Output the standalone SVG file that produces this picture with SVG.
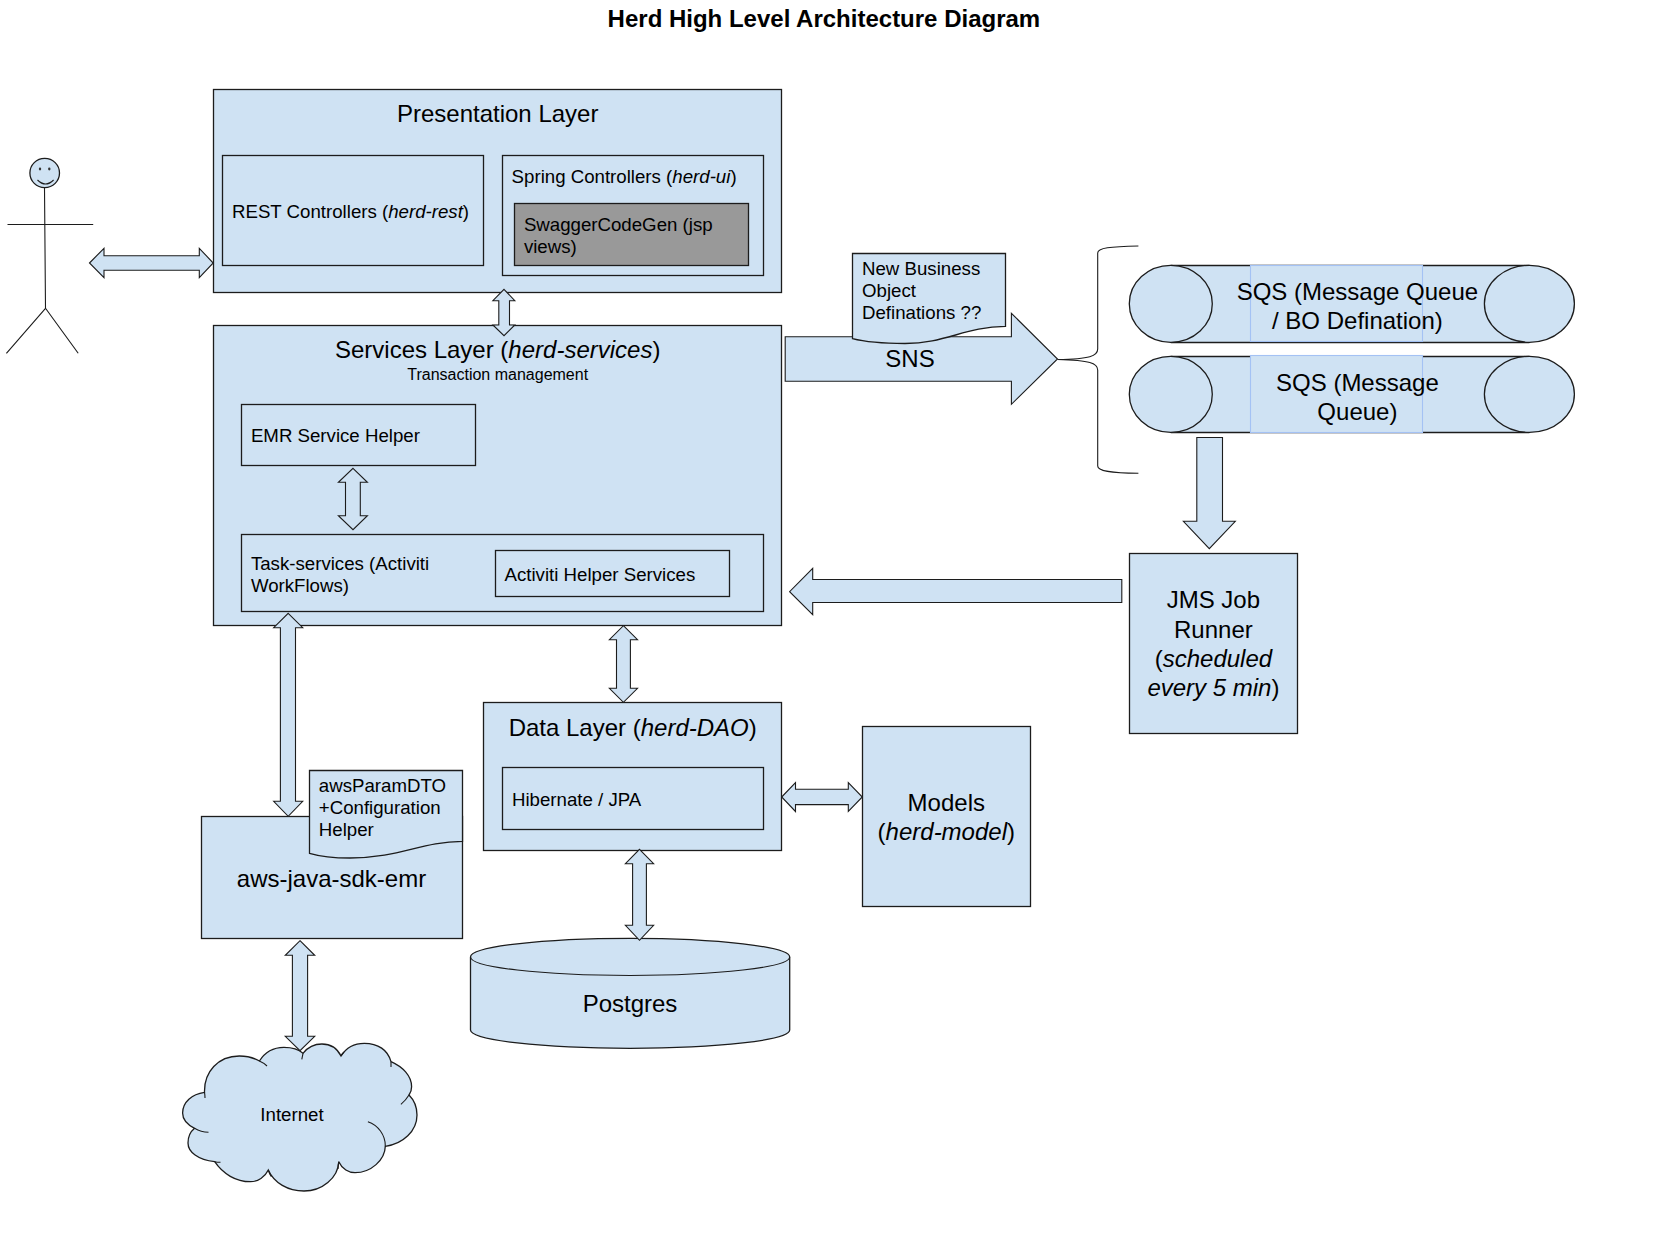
<svg xmlns="http://www.w3.org/2000/svg" width="1679" height="1244" viewBox="0 0 1679 1244">
<style>
text{font-family:"Liberation Sans",Arial,sans-serif;fill:#000;font-size:18.67px}
.l{font-size:24px}
.c{text-anchor:middle}
.t{font-weight:bold;font-size:24px}
.s{font-size:16px}
.i{font-style:italic}
.b{fill:#cfe2f3;stroke:#1c1c1c;stroke-width:1.3}
.a{fill:#cfe2f3;stroke:#1c1c1c;stroke-width:1.1;stroke-linejoin:miter}
.n{fill:none;stroke:#1c1c1c;stroke-width:1.1}
.q{fill:#cfe2f3;stroke:#a4c2f4;stroke-width:1.1}
</style>
<rect width="1679" height="1244" fill="#fff"/>
<text id="title" class="t c" x="823.9" y="26.6">Herd High Level Architecture Diagram</text>

<g id="user">
<ellipse class="b" cx="44.7" cy="173" rx="14.8" ry="14.7"/>
<ellipse cx="40" cy="169" rx="1.2" ry="1.4" fill="#333"/>
<ellipse cx="49.3" cy="169" rx="1.2" ry="1.4" fill="#333"/>
<path class="n" d="M37.5,180 Q45.5,188 53.6,180"/>
<path class="n" d="M44.5,187.7 L45.5,308.3 M7.5,224.5 H93.2 M45.5,308.3 L6.4,353.3 M45.5,308.3 L78.2,353.3"/>
</g>

<g id="presentation-layer">
<rect class="b" x="213.5" y="89.5" width="568" height="203"/>
<text class="l c" x="497.7" y="122">Presentation Layer</text>
</g>
<g id="rest-controllers">
<rect class="b" x="222.5" y="155.5" width="261" height="110"/>
<text x="232" y="217.8">REST Controllers (<tspan class="i">herd-rest</tspan>)</text>
</g>
<g id="spring-controllers">
<rect class="b" x="502.5" y="155.5" width="261" height="120"/>
<text x="511.6" y="182.8">Spring Controllers (<tspan class="i">herd-ui</tspan>)</text>
</g>
<g id="swagger-codegen">
<rect x="514.5" y="203.5" width="234" height="62" fill="#999" stroke="#1c1c1c" stroke-width="1.3"/>
<text x="523.9" y="231">SwaggerCodeGen (jsp</text>
<text x="523.9" y="252.7">views)</text>
</g>

<g id="services-layer">
<rect class="b" x="213.5" y="325.5" width="568" height="300"/>
<text class="l c" x="497.7" y="358">Services Layer (<tspan class="i">herd-services</tspan>)</text>
<text class="s c" x="497.7" y="379.6">Transaction management</text>
</g>
<g id="emr-service-helper">
<rect class="b" x="241.5" y="404.5" width="234" height="61"/>
<text x="250.9" y="442.2">EMR Service Helper</text>
</g>
<g id="task-services">
<rect class="b" x="241.5" y="534.5" width="522" height="77"/>
<text x="250.9" y="570">Task-services (Activiti</text>
<text x="250.9" y="592">WorkFlows)</text>
</g>
<g id="activiti-helper-services">
<rect class="b" x="495.5" y="550.5" width="234" height="46"/>
<text x="504.5" y="581.2">Activiti Helper Services</text>
</g>

<g id="data-layer">
<rect class="b" x="483.5" y="702.5" width="298" height="148"/>
<text class="l c" x="632.7" y="735.7">Data Layer (<tspan class="i">herd-DAO</tspan>)</text>
</g>
<g id="hibernate-jpa">
<rect class="b" x="502.5" y="767.5" width="261" height="62"/>
<text x="512" y="805.7">Hibernate / JPA</text>
</g>
<g id="models">
<rect class="b" x="862.5" y="726.5" width="168" height="180"/>
<text class="l c" x="946.3" y="810.8">Models</text>
<text class="l c" x="946.3" y="840">(<tspan class="i">herd-model</tspan>)</text>
</g>
<g id="aws-java-sdk-emr">
<rect class="b" x="201.5" y="816.5" width="261" height="122"/>
<text class="l c" x="331.5" y="886.7">aws-java-sdk-emr</text>
</g>
<g id="postgres">
<path class="b" d="M470.5,957 A159.6,18.7 0 0 1 789.7,957 V1030 A159.6,18.3 0 0 1 470.5,1030 Z"/>
<path class="n" d="M470.5,957 A159.6,18.5 0 0 0 789.7,957"/>
<text class="l c" x="630" y="1011.8">Postgres</text>
</g>
<g id="internet">
<path class="b" d="M204.5,1092.3 C204,1072 218,1056 239.3,1056 C248,1056 254,1058 259.4,1061 C265,1052 274,1047.3 283.9,1047.3 C292,1047.3 299,1049.5 303,1053.3 C308,1047 314,1044 321.9,1044 C330,1044 337,1048 341,1056 C346,1048 354,1043.3 364.3,1043.3 C378,1043.3 388,1050 391,1061.7 C403,1067 411.6,1076 411.6,1086.7 C411.6,1090 410.5,1093 409,1095 C414,1100 417,1107 417,1115 C417,1131 403,1144 385.3,1146.3 C385,1160 371,1172.7 355,1172.7 C349,1172.7 342,1169 338.8,1161.7 C338,1178 322,1191 304,1191 C288,1191 274,1183 268.3,1170 C265,1177 258,1181.7 250.4,1181.7 C236,1181.7 223,1174 214.7,1161.7 C198,1160 188,1152 188,1143 C188,1137 190,1132 194.6,1128.3 C186,1124 182.6,1118 182.6,1113 C182.6,1102 192,1094 204.5,1092.3 Z"/>
<path class="n" d="M204.5,1092.3 Q205,1095 205,1098 M259.4,1061 Q264,1063 267,1066 M303,1053.3 Q302.5,1056 301.8,1059.3 M341,1056 Q342,1054 344,1052 M391,1061.7 Q391,1064 391,1067 M409,1095 Q406,1100 400.9,1104.3 M367.9,1121.7 C378,1125 385.5,1135 385.3,1146.3 M338.8,1161.7 Q338,1165 338,1169 M268.3,1170 Q269,1173 271.4,1176.7 M214.7,1161.7 Q217,1162.3 220.5,1162.3 M194.6,1128.3 Q201,1132.3 208.5,1132.3"/>
<text class="c" x="292" y="1120.7">Internet</text>
</g>

<g id="sqs-bo-definition">
<path class="b" d="M1170.8,265.5 H1529.4 V342.5 H1170.8 Z" stroke-dasharray="358.6 77 358.6 77"/>
<ellipse class="b" cx="1170.8" cy="303.8" rx="41.5" ry="38.5"/>
<ellipse class="b" cx="1529.4" cy="303.8" rx="45" ry="38.5"/>
<rect class="q" x="1250.5" y="265.5" width="172" height="76"/>
<text class="l c" x="1357.4" y="300.2">SQS (Message Queue</text>
<text class="l c" x="1357.4" y="329.2">/ BO Defination)</text>
</g>
<g id="sqs-message-queue">
<path class="b" d="M1170.8,356.5 H1529.4 V432.5 H1170.8 Z" stroke-dasharray="358.6 76 358.6 76"/>
<ellipse class="b" cx="1170.8" cy="394.3" rx="41.5" ry="38"/>
<ellipse class="b" cx="1529.4" cy="394.3" rx="45" ry="38"/>
<rect class="q" x="1250.5" y="355.5" width="172" height="77"/>
<text class="l c" x="1357.4" y="390.5">SQS (Message</text>
<text class="l c" x="1357.4" y="419.5">Queue)</text>
</g>
<g id="jms-job-runner">
<rect class="b" x="1129.5" y="553.5" width="168" height="180"/>
<text class="l c" x="1213.4" y="608.4">JMS Job</text>
<text class="l c" x="1213.4" y="637.7">Runner</text>
<text class="l c" x="1213.4" y="666.7">(<tspan class="i">scheduled</tspan></text>
<text class="l c" x="1213.4" y="695.7"><tspan class="i">every 5 min</tspan>)</text>
</g>

<g id="connectors">
<path class="a" d="M89.5,263 L104,248.3 V255.7 H199.3 V248.3 L213.2,263 L199.3,277.7 V270.3 H104 V277.7 Z"/>
<path class="a" d="M504,289.3 L514.8,300.7 H509.5 V325 H514.8 L504,335.7 L492.9,325 H498.8 V300.7 H492.9 Z"/>
<path class="a" d="M353,468.3 L367.4,482.3 H360.3 V515.7 H367.4 L353,529.7 L338.4,515.7 H345.5 V482.3 H338.4 Z"/>
<path class="a" d="M288.2,613.3 L302.7,627.7 H295.5 V801.3 H302.7 L288.2,816.3 L273.7,801.3 H280.4 V627.7 H273.7 Z"/>
<path class="a" d="M623.4,625.7 L637.5,639.7 H630.4 V688.3 H637.5 L623.4,702.3 L609.4,688.3 H616.5 V639.7 H609.4 Z"/>
<path class="a" d="M781.7,797 L795.5,782.7 V789.3 H848.3 V782.7 L862.3,797 L848.3,811.5 V804.6 H795.5 V811.5 Z"/>
<path class="a" d="M639.5,849.3 L653.6,863.7 H646.4 V925.3 H653.6 L639.5,940.3 L625.4,925.3 H632.6 V863.7 H625.4 Z"/>
<path class="a" d="M300,940.7 L314.7,955.3 H307.6 V1036.3 H314.7 L300,1050.7 L285.3,1036.3 H292.4 V955.3 H285.3 Z"/>
<path class="a" d="M1196.8,437.5 H1222.5 V521.3 H1235.3 L1209.3,548.7 L1183.4,521.3 H1196.8 Z"/>
<path class="a" d="M1121.8,579.5 V602.5 H812.7 V614.7 L789.6,591.7 L812.7,568.3 V579.5 Z"/>
<path class="n" d="M1138.4,246 C1110,246.5 1097.7,248 1097.7,253 V349 C1097.7,356 1090,359 1057.5,359.5 C1090,360.5 1097.7,363 1097.7,370 V466 C1097.7,471 1110,473 1138.4,473.3"/>
</g>
<g id="sns">
<path class="a" d="M785.2,336.7 H1011.4 V313.3 L1057.5,359 L1011.4,404.3 V381.3 H785.2 Z"/>
<text class="l c" x="910" y="367.2">SNS</text>
</g>
<g id="note-new-business-object">
<path class="b" d="M852.5,253.5 H1005.5 V326.3 C965,327 945,343.5 905,343.5 C885,343.5 865,342 852.5,338.7 Z"/>
<text x="862" y="275.2">New Business</text>
<text x="862" y="297.2">Object</text>
<text x="862" y="319.2">Definations ??</text>
</g>
<g id="note-aws-param-dto">
<path class="b" d="M309.5,770.5 H462.5 V841.3 C420,842 400,858 350,858 C335,858 322,857 309.5,853.3 Z"/>
<text x="318.8" y="791.6">awsParamDTO</text>
<text x="318.8" y="813.8">+Configuration</text>
<text x="318.8" y="835.8">Helper</text>
</g>
</svg>
